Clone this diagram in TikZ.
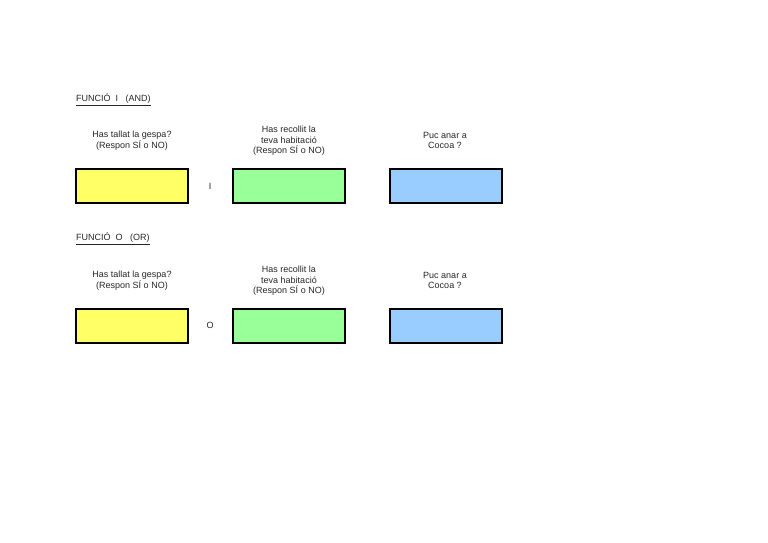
\documentclass[tikz,border=0pt]{standalone}
\usepackage{fontspec}
\setmainfont{Liberation Sans}
\definecolor{cyel}{HTML}{FFFF66}
\definecolor{cgrn}{HTML}{99FF99}
\definecolor{cblu}{HTML}{99CCFF}
\begin{document}
\begin{tikzpicture}[x=1pt,y=-1pt,
  inbox/.style={draw=black,line width=1.3pt,minimum width=112pt,minimum height=34pt,inner sep=0pt},
  lbl/.style={align=center,font=\fontsize{9}{10.5}\selectfont,inner sep=0pt,text=black!85},
  ttl/.style={anchor=west,font=\fontsize{9}{10.5}\selectfont,inner sep=0pt,text=black!85}]
\useasboundingbox (0,0) rectangle (768,543);
% Row 1
\node[ttl] (t1) at (76,100) {\underline{FUNCIÓ\ \ I\ \ \ (AND)}};
\node[lbl] (q1a) at (132,140.5) {Has tallat la gespa?\\(Respon SÍ o NO)};
\node[lbl] (q1b) at (289,141) {Has recollit la\\teva habitació\\(Respon SÍ o NO)};
\node[lbl] (q1c) at (445,140.5) {Puc anar a\\Cocoa ?};
\node[inbox,fill=cyel] (b1a) at (132,186) {};
\node[lbl] (op1) at (210,186) {I};
\node[inbox,fill=cgrn] (b1b) at (289,186) {};
\node[inbox,fill=cblu] (b1c) at (446,186) {};
% Row 2
\node[ttl] (t2) at (76,239) {\underline{FUNCIÓ\ \ O\ \ \ (OR)}};
\node[lbl] (q2a) at (132,280.5) {Has tallat la gespa?\\(Respon SÍ o NO)};
\node[lbl] (q2b) at (289,281) {Has recollit la\\teva habitació\\(Respon SÍ o NO)};
\node[lbl] (q2c) at (445,280.5) {Puc anar a\\Cocoa ?};
\node[inbox,fill=cyel] (b2a) at (132,326) {};
\node[lbl] (op2) at (210,325.5) {O};
\node[inbox,fill=cgrn] (b2b) at (289,326) {};
\node[inbox,fill=cblu] (b2c) at (446,326) {};
\end{tikzpicture}
\end{document}
